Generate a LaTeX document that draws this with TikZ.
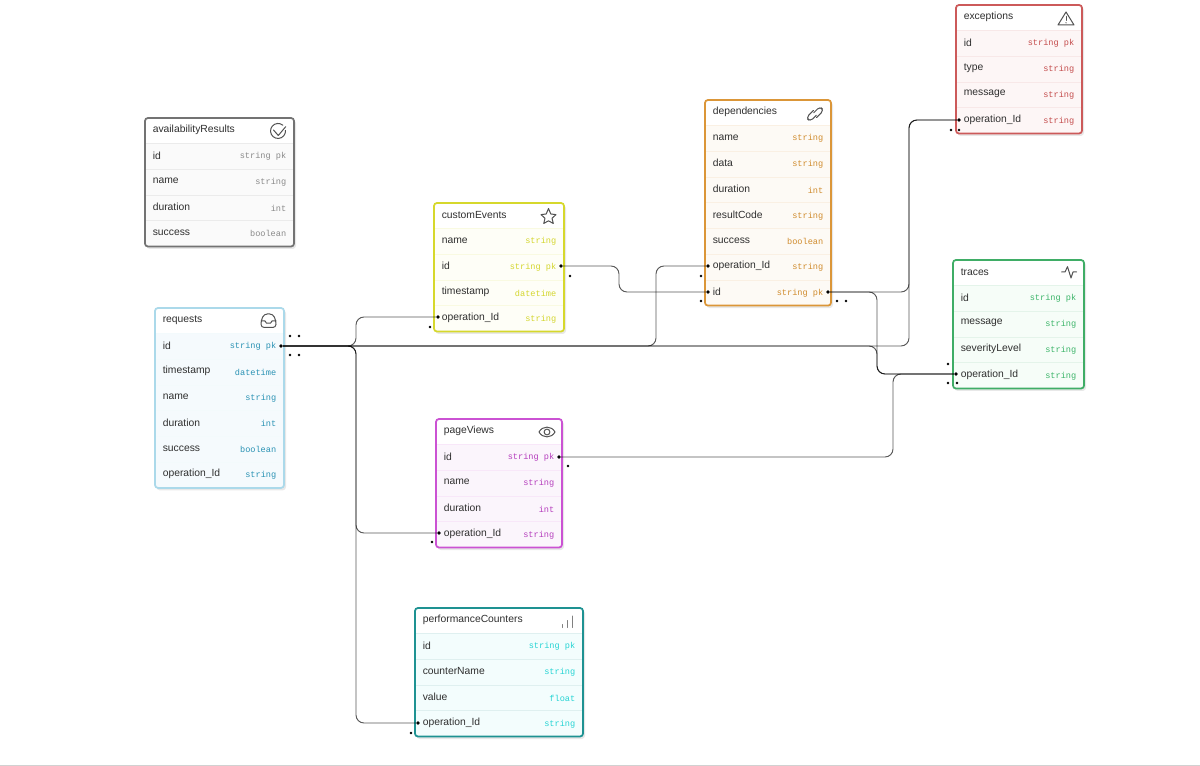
\documentclass[tikz,border=0pt]{standalone}
\usepackage{fontspec}
\setmainfont{Liberation Sans}
\newfontfamily\typefont{Liberation Mono}
\usetikzlibrary{calc}
\definecolor{inkc}{HTML}{2F2F2F}
\definecolor{avB}{HTML}{737373}\definecolor{avT}{HTML}{8A8A8A}\definecolor{avF}{HTML}{FAFAFA}
\definecolor{reB}{HTML}{ABD9EA}\definecolor{reT}{HTML}{2A92B4}\definecolor{reF}{HTML}{F5FAFD}
\definecolor{ceB}{HTML}{D6D82C}\definecolor{ceT}{HTML}{D4D62E}\definecolor{ceF}{HTML}{FEFEF7}
\definecolor{deB}{HTML}{DB9638}\definecolor{deT}{HTML}{D08C2E}\definecolor{deF}{HTML}{FDFAF5}
\definecolor{exB}{HTML}{CC5A5A}\definecolor{exT}{HTML}{C44C4C}\definecolor{exF}{HTML}{FDF6F6}
\definecolor{trB}{HTML}{3FAD66}\definecolor{trT}{HTML}{3DB56A}\definecolor{trF}{HTML}{F6FDF8}
\definecolor{pvB}{HTML}{CB52D3}\definecolor{pvT}{HTML}{B53EBD}\definecolor{pvF}{HTML}{FBF5FC}
\definecolor{pcB}{HTML}{1E9292}\definecolor{pcT}{HTML}{26D4D4}\definecolor{pcF}{HTML}{F3FDFD}
\tikzset{
  x=0.75pt,y=-0.75pt,
  boxshape/.style={draw=#1,line width=1.3pt,rounded corners=2.2pt},
  shadowshape/.style={fill=black,opacity=0.09,draw=none,rounded corners=2.5pt},
  titletext/.style={anchor=west,font=\fontsize{7.75}{9}\selectfont,text=inkc,inner sep=0pt},
  labeltext/.style={anchor=west,font=\fontsize{7.75}{9}\selectfont,text=inkc,inner sep=0pt},
  typetext/.style={anchor=east,font=\typefont\fontsize{6.45}{8}\selectfont,inner sep=0pt},
  rel/.style={draw=black,draw opacity=0.66,line width=0.72pt,rounded corners=6pt},
  port/.style={circle,fill=black,inner sep=0pt,minimum size=2.7pt},
  tick/.style={circle,fill=black,inner sep=0pt,minimum size=2.1pt},
  iconline/.style={draw=black!68,line width=0.75pt,line join=round,line cap=round},
}
% id, title, left, right, top, colour prefix, rows
\newcommand{\entitybox}[7]{%
  \foreach \lab/\typ [count=\ri] in {#7}{\global\let\lastri\ri}%
  \pgfmathsetmacro{\entbot}{#5+25.7*(\lastri+1)}%
  \fill[shadowshape] (#3+1.5,#5+2) rectangle (#4+2,\entbot+2.5);
  \begin{scope}
    \path[clip,rounded corners=2.2pt] (#3,#5) rectangle (#4,\entbot);
    \fill[white] (#3,#5) rectangle (#4,\entbot);
    \fill[#6F] (#3,#5+25.7) rectangle (#4,\entbot);
  \end{scope}
  \node[titletext] (#1-title) at (#3+7.5,#5+12) {#2};
  \foreach \lab/\typ [count=\ri] in {#7}{%
    \pgfmathsetmacro{\ry}{#5+25.7*\ri}%
    \draw[#6B!14,line width=0.55pt] (#3,\ry) -- (#4,\ry);
    \node[labeltext] (#1-l\ri) at (#3+7.5,\ry+11.8) {\lab};
    \node[typetext,text=#6T] (#1-t\ri) at (#4-7.5,\ry+13) {\typ};
  }
  \path[boxshape=#6B] (#3,#5) rectangle (#4,\entbot);
}
\begin{document}
\begin{tikzpicture}
\useasboundingbox (0,0) rectangle (1200,766);
\fill[white] (0,0) rectangle (1200,766);
\draw[black!18,line width=0.75pt] (0,765) -- (1200,765);

\entitybox{avail}{availabilityResults}{145}{294}{118}{av}{id/string pk,name/string,duration/int,success/boolean}
\entitybox{req}{requests}{155}{284}{308}{re}{id/string pk,timestamp/datetime,name/string,duration/int,success/boolean,operation\_Id/string}
\entitybox{ce}{customEvents}{434}{564}{203}{ce}{name/string,id/string pk,timestamp/datetime,operation\_Id/string}
\entitybox{dep}{dependencies}{705}{831}{100}{de}{name/string,data/string,duration/int,resultCode/string,success/boolean,operation\_Id/string,id/string pk}
\entitybox{exc}{exceptions}{956}{1082}{5}{ex}{id/string pk,type/string,message/string,operation\_Id/string}
\entitybox{tr}{traces}{953}{1084}{260}{tr}{id/string pk,message/string,severityLevel/string,operation\_Id/string}
\entitybox{pv}{pageViews}{436}{562}{419}{pv}{id/string pk,name/string,duration/int,operation\_Id/string}
\entitybox{pc}{performanceCounters}{415}{583}{608}{pc}{id/string pk,counterName/string,value/float,operation\_Id/string}

% icons
\draw[iconline] (285.5,130.3) arc[start angle=-5,end angle=310,radius=7.5];
\draw[iconline] (273.5,130) -- (278.3,135.5) -- (285.7,126.7);
\draw[iconline,rounded corners=2.4pt] (264,314) -- (261,321) -- (261,327.5) -- (276,327.5) -- (276,321) -- (273,314) -- cycle;
\draw[iconline] (261,321) -- (265,321) -- (266.5,323.2) -- (270.5,323.2) -- (272,321) -- (276,321);
\draw[iconline] (548.5,208.5) -- (550.8,214) -- (556,214.6) -- (552,218.3) -- (553.3,223.5) -- (548.5,220.8) -- (543.7,223.5) -- (545,218.3) -- (541,214.6) -- (546.2,214) -- cycle;
\begin{scope}[shift={(815,114)},rotate=45]
  \draw[iconline,rounded corners=2.6pt] (1.5,-3.6) -- (-8.8,-3.6) -- (-8.8,1.8) -- (0,1.8);
  \draw[iconline,rounded corners=2.6pt] (-1.5,3.6) -- (8.8,3.6) -- (8.8,-1.8) -- (0,-1.8);
\end{scope}
\draw[iconline] (1066,12) -- (1074,25) -- (1058,25) -- cycle;
\draw[iconline] (1066,16.5) -- (1066,20.5);
\fill[black!68] (1066,22.8) circle[radius=0.7];
\draw[iconline] (1061.5,272) -- (1065,272) -- (1067.5,266.7) -- (1071,278) -- (1073,272) -- (1076.7,272);
\draw[iconline] (539,432) .. controls (542.5,425.5) and (551.5,425.5) .. (555,432) .. controls (551.5,438.5) and (542.5,438.5) .. (539,432) -- cycle;
\draw[iconline] (547,432) circle[radius=2.9];
\draw[iconline,black!50] (562.7,624.5) -- (562.7,627.5);
\draw[iconline,black!50] (567.7,620.5) -- (567.7,627.5);
\draw[iconline,black!50] (572.5,616) -- (572.5,627.5);

% ports
\node[port] (reqid) at (281,346) {};
\node[port] (ceop) at (438,317) {};
\node[port] (ceid) at (561,266) {};
\node[port] (depop) at (708,266) {};
\node[port] (depidl) at (708,292) {};
\node[port] (depidr) at (828,292) {};
\node[port] (excop) at (959,120) {};
\node[port] (trop) at (956,374) {};
\node[port] (pvid) at (559,457) {};
\node[port] (pvop) at (439,533) {};
\node[port] (pcop) at (418,723) {};

% bends
\coordinate (busce) at (356,346);
\coordinate (busdep) at (656,346);
\coordinate (bustr) at (877,346);
\coordinate (busexc) at (909,346);
\coordinate (midce) at (619,266);
\coordinate (deptr) at (877,292);
\coordinate (depexc) at (909,292);
\coordinate (pvtr) at (893,457);

\path[rel] (reqid) -- (busce) -- (busce |- ceop) -- (ceop);
\path[rel] (reqid) -- (busce) -- (busce |- pvop) -- (pvop);
\path[rel] (reqid) -- (busce) -- (busce |- pcop) -- (pcop);
\path[rel] (reqid) -- (busdep) -- (busdep |- depop) -- (depop);
\path[rel] (reqid) -- (busexc) -- (busexc |- excop) -- (excop);
\path[rel] (reqid) -- (bustr) -- (bustr |- trop) -- (trop);
\path[rel] (ceid) -- (midce) -- (midce |- depidl) -- (depidl);
\path[rel] (depidr) -- (depexc) -- (depexc |- excop) -- (excop);
\path[rel] (depidr) -- (deptr) -- (deptr |- trop) -- (trop);
\path[rel] (pvid) -- (pvtr) -- (pvtr |- trop) -- (trop);

% small marks left at the line ends
\foreach \n/\px/\py in {a/290/336,b/299/336,c/290/355,d/299/355,e/430/327,f/570/276,g/701/276,h/701/301,i/837/301,j/846/301,k/951/130,l/959/130,m/948/364,n/948/383,o/957/383,p/568/466,q/432/542,r/411/733}{
  \node[tick] (mark\n) at (\px,\py) {};
}
\end{tikzpicture}
\end{document}
